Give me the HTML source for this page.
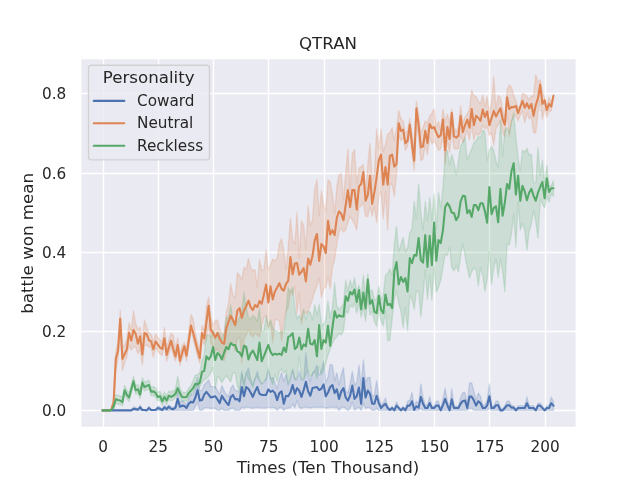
<!DOCTYPE html>
<html lang="en"><head><meta charset="utf-8"><title>QTRAN</title>
<style>
html,body{margin:0;padding:0;background:#fff;width:640px;height:480px;overflow:hidden}
svg{display:block}
</style></head><body>
<svg width="640" height="480" viewBox="0 0 460.8 345.6" version="1.1">
 <defs>
  <style type="text/css">*{stroke-linejoin: round; stroke-linecap: butt}</style>
 </defs>
 <g id="figure_1">
  <g id="patch_1">
   <path d="M 0 345.6 
L 460.8 345.6 
L 460.8 0 
L 0 0 
z
" style="fill: #ffffff"/>
  </g>
  <g id="axes_1">
   <g id="patch_2">
    <path d="M 57.6 307.44 L 414.72 307.44 L 414.72 41.76 L 57.6 41.76 z
" style="fill: #eaeaf2"/>
   </g>
   <g id="matplotlib.axis_1">
    <g id="xtick_1">
     <g id="line2d_1">
      <path d="M 74.5200 307.584 L 74.5200 41.472" clip-path="url(#p02d3b5d28d)" style="fill: none; stroke: #ffffff; stroke-linecap: round"/>
     </g>
     <g id="text_1" transform="translate(0.360 0.000)">
      <text style="font-size: 11px; font-family: 'DejaVu Sans', 'Liberation Sans', sans-serif; text-anchor: middle; fill: #262626" x="73.832727" y="325.442281" transform="rotate(-0 73.832727 325.442281)">0</text>
     </g>
    </g>
    <g id="xtick_2">
     <g id="line2d_2">
      <path d="M 114.1200 307.584 L 114.1200 41.472" clip-path="url(#p02d3b5d28d)" style="fill: none; stroke: #ffffff; stroke-linecap: round"/>
     </g>
     <g id="text_2" transform="translate(0.360 0.000)">
      <text style="font-size: 11px; font-family: 'DejaVu Sans', 'Liberation Sans', sans-serif; text-anchor: middle; fill: #262626" x="113.618824" y="325.442281" transform="rotate(-0 113.618824 325.442281)">25</text>
     </g>
    </g>
    <g id="xtick_3">
     <g id="line2d_3">
      <path d="M 153.7200 307.584 L 153.7200 41.472" clip-path="url(#p02d3b5d28d)" style="fill: none; stroke: #ffffff; stroke-linecap: round"/>
     </g>
     <g id="text_3" transform="translate(0.360 0.000)">
      <text style="font-size: 11px; font-family: 'DejaVu Sans', 'Liberation Sans', sans-serif; text-anchor: middle; fill: #262626" x="153.40492" y="325.442281" transform="rotate(-0 153.40492 325.442281)">50</text>
     </g>
    </g>
    <g id="xtick_4">
     <g id="line2d_4">
      <path d="M 193.3200 307.584 L 193.3200 41.472" clip-path="url(#p02d3b5d28d)" style="fill: none; stroke: #ffffff; stroke-linecap: round"/>
     </g>
     <g id="text_4" transform="translate(0.360 0.000)">
      <text style="font-size: 11px; font-family: 'DejaVu Sans', 'Liberation Sans', sans-serif; text-anchor: middle; fill: #262626" x="193.191016" y="325.442281" transform="rotate(-0 193.191016 325.442281)">75</text>
     </g>
    </g>
    <g id="xtick_5">
     <g id="line2d_5">
      <path d="M 233.6400 307.584 L 233.6400 41.472" clip-path="url(#p02d3b5d28d)" style="fill: none; stroke: #ffffff; stroke-linecap: round"/>
     </g>
     <g id="text_5" transform="translate(0.360 0.000)">
      <text style="font-size: 11px; font-family: 'DejaVu Sans', 'Liberation Sans', sans-serif; text-anchor: middle; fill: #262626" x="232.977112" y="325.442281" transform="rotate(-0 232.977112 325.442281)">100</text>
     </g>
    </g>
    <g id="xtick_6">
     <g id="line2d_6">
      <path d="M 273.2400 307.584 L 273.2400 41.472" clip-path="url(#p02d3b5d28d)" style="fill: none; stroke: #ffffff; stroke-linecap: round"/>
     </g>
     <g id="text_6" transform="translate(0.360 0.000)">
      <text style="font-size: 11px; font-family: 'DejaVu Sans', 'Liberation Sans', sans-serif; text-anchor: middle; fill: #262626" x="272.763209" y="325.442281" transform="rotate(-0 272.763209 325.442281)">125</text>
     </g>
    </g>
    <g id="xtick_7">
     <g id="line2d_7">
      <path d="M 312.8400 307.584 L 312.8400 41.472" clip-path="url(#p02d3b5d28d)" style="fill: none; stroke: #ffffff; stroke-linecap: round"/>
     </g>
     <g id="text_7" transform="translate(0.360 0.000)">
      <text style="font-size: 11px; font-family: 'DejaVu Sans', 'Liberation Sans', sans-serif; text-anchor: middle; fill: #262626" x="312.549305" y="325.442281" transform="rotate(-0 312.549305 325.442281)">150</text>
     </g>
    </g>
    <g id="xtick_8">
     <g id="line2d_8">
      <path d="M 352.4400 307.584 L 352.4400 41.472" clip-path="url(#p02d3b5d28d)" style="fill: none; stroke: #ffffff; stroke-linecap: round"/>
     </g>
     <g id="text_8" transform="translate(0.360 0.000)">
      <text style="font-size: 11px; font-family: 'DejaVu Sans', 'Liberation Sans', sans-serif; text-anchor: middle; fill: #262626" x="352.335401" y="325.442281" transform="rotate(-0 352.335401 325.442281)">175</text>
     </g>
    </g>
    <g id="xtick_9">
     <g id="line2d_9">
      <path d="M 392.7600 307.584 L 392.7600 41.472" clip-path="url(#p02d3b5d28d)" style="fill: none; stroke: #ffffff; stroke-linecap: round"/>
     </g>
     <g id="text_9" transform="translate(0.360 0.000)">
      <text style="font-size: 11px; font-family: 'DejaVu Sans', 'Liberation Sans', sans-serif; text-anchor: middle; fill: #262626" x="392.121497" y="325.442281" transform="rotate(-0 392.121497 325.442281)">200</text>
     </g>
    </g>
    <g id="text_10">
     <text style="font-size: 12px; font-family: 'DejaVu Sans', 'Liberation Sans', sans-serif; text-anchor: middle; fill: #262626" x="236.16" y="340.848062" transform="rotate(-0 236.16 340.848062)">Times (Ten Thousand)</text>
    </g>
   </g>
   <g id="matplotlib.axis_2">
    <g id="ytick_1">
     <g id="line2d_10">
      <path d="M 57.6 295.5600 L 414.72 295.5600" clip-path="url(#p02d3b5d28d)" style="fill: none; stroke: #ffffff; stroke-linecap: round"/>
     </g>
     <g id="text_11" transform="translate(-0.360 0.000)">
      <text style="font-size: 11px; font-family: 'DejaVu Sans', 'Liberation Sans', sans-serif; text-anchor: end; fill: #262626" x="48.1" y="299.667141" transform="rotate(-0 48.1 299.667141)">0.0</text>
     </g>
    </g>
    <g id="ytick_2">
     <g id="line2d_11">
      <path d="M 57.6 238.6800 L 414.72 238.6800" clip-path="url(#p02d3b5d28d)" style="fill: none; stroke: #ffffff; stroke-linecap: round"/>
     </g>
     <g id="text_12" transform="translate(-0.360 0.000)">
      <text style="font-size: 11px; font-family: 'DejaVu Sans', 'Liberation Sans', sans-serif; text-anchor: end; fill: #262626" x="48.1" y="242.576875" transform="rotate(-0 48.1 242.576875)">0.2</text>
     </g>
    </g>
    <g id="ytick_3">
     <g id="line2d_12">
      <path d="M 57.6 181.8000 L 414.72 181.8000" clip-path="url(#p02d3b5d28d)" style="fill: none; stroke: #ffffff; stroke-linecap: round"/>
     </g>
     <g id="text_13" transform="translate(-0.360 0.000)">
      <text style="font-size: 11px; font-family: 'DejaVu Sans', 'Liberation Sans', sans-serif; text-anchor: end; fill: #262626" x="48.1" y="185.48661" transform="rotate(-0 48.1 185.48661)">0.4</text>
     </g>
    </g>
    <g id="ytick_4">
     <g id="line2d_13">
      <path d="M 57.6 124.9200 L 414.72 124.9200" clip-path="url(#p02d3b5d28d)" style="fill: none; stroke: #ffffff; stroke-linecap: round"/>
     </g>
     <g id="text_14" transform="translate(-0.360 0.720)">
      <text style="font-size: 11px; font-family: 'DejaVu Sans', 'Liberation Sans', sans-serif; text-anchor: end; fill: #262626" x="48.1" y="128.396344" transform="rotate(-0 48.1 128.396344)">0.6</text>
     </g>
    </g>
    <g id="ytick_5">
     <g id="line2d_14">
      <path d="M 57.6 67.3200 L 414.72 67.3200" clip-path="url(#p02d3b5d28d)" style="fill: none; stroke: #ffffff; stroke-linecap: round"/>
     </g>
     <g id="text_15" transform="translate(-0.360 0.000)">
      <text style="font-size: 11px; font-family: 'DejaVu Sans', 'Liberation Sans', sans-serif; text-anchor: end; fill: #262626" x="48.1" y="71.306079" transform="rotate(-0 48.1 71.306079)">0.8</text>
     </g>
    </g>
    <g id="text_16" transform="translate(0.000 0.720)">
     <text style="font-size: 12px; font-family: 'DejaVu Sans', 'Liberation Sans', sans-serif; text-anchor: middle; fill: #262626" x="24.110938" y="174.528" transform="rotate(-90 24.110938 174.528)">battle won mean</text>
    </g>
   </g>
   <g id="FillBetweenPolyCollection_1">
    <defs>
     <path id="m5f63ee102f" d="M 73.832727 -50.112 
L 73.832727 -50.112 
L 75.424171 -50.112 
L 77.015615 -50.112 
L 78.607059 -50.112 
L 80.198503 -50.112 
L 81.789947 -50.112 
L 83.38139 -50.112 
L 84.972834 -50.112 
L 86.564278 -50.112 
L 88.155722 -50.112 
L 89.747166 -50.112 
L 91.33861 -50.112 
L 92.930053 -50.112 
L 94.521497 -50.112 
L 96.112941 -50.112 
L 97.704385 -50.112 
L 99.295829 -50.112 
L 100.887273 -50.112 
L 102.478717 -50.112 
L 104.07016 -50.112 
L 105.661604 -50.112 
L 107.253048 -50.112 
L 108.844492 -50.112 
L 110.435936 -50.112 
L 112.02738 -50.112 
L 113.618824 -50.112 
L 115.210267 -50.112 
L 116.801711 -50.112 
L 118.393155 -50.112 
L 119.984599 -50.112 
L 121.576043 -50.112 
L 123.167487 -50.112 
L 124.75893 -50.112 
L 126.350374 -50.112 
L 127.941818 -50.112 
L 129.533262 -50.112 
L 131.124706 -50.112 
L 132.71615 -50.112 
L 134.307594 -50.112 
L 135.899037 -50.112 
L 137.490481 -50.112 
L 139.081925 -50.112 
L 140.673369 -52.966513 
L 142.264813 -55.821027 
L 143.856257 -50.112 
L 145.447701 -50.112 
L 147.039144 -51.824708 
L 148.630588 -52.111587 
L 150.222032 -51.824708 
L 151.813476 -51.503575 
L 153.40492 -51.567802 
L 154.996364 -51.640592 
L 156.587807 -50.112 
L 158.179251 -50.112 
L 159.770695 -51.696255 
L 161.362139 -50.112 
L 162.953583 -50.112 
L 164.545027 -50.112 
L 166.136471 -51.567802 
L 167.727914 -51.78189 
L 169.319358 -50.112 
L 170.910802 -50.112 
L 172.502246 -50.112 
L 174.09369 -52.395611 
L 175.685134 -51.640592 
L 177.276578 -52.395611 
L 178.868021 -52.395611 
L 180.459465 -52.038796 
L 182.050909 -51.567802 
L 183.642353 -52.16725 
L 185.233797 -52.395611 
L 186.825241 -51.910343 
L 188.416684 -51.78189 
L 190.008128 -51.78189 
L 191.599572 -51.78189 
L 193.191016 -52.381338 
L 194.78246 -52.111587 
L 196.373904 -52.252885 
L 197.965348 -51.983133 
L 199.556791 -50.112 
L 201.148235 -51.983133 
L 202.739679 -52.16725 
L 204.331123 -50.112 
L 205.922567 -51.696255 
L 207.514011 -51.640592 
L 209.105455 -52.038796 
L 210.696898 -54.679221 
L 212.288342 -51.910343 
L 213.879786 -57.248283 
L 215.47123 -52.252885 
L 217.062674 -51.567802 
L 218.654118 -52.31283 
L 220.245561 -52.395611 
L 221.837005 -52.16725 
L 223.428449 -51.696255 
L 225.019893 -52.395611 
L 226.611337 -52.395611 
L 228.202781 -52.395611 
L 229.794225 -52.31283 
L 231.385668 -52.395611 
L 232.977112 -52.395611 
L 234.568556 -51.640592 
L 236.16 -52.038796 
L 237.751444 -52.395611 
L 239.342888 -52.395611 
L 240.934332 -51.983133 
L 242.525775 -52.381338 
L 244.117219 -50.112 
L 245.708663 -52.16725 
L 247.300107 -52.395611 
L 248.891551 -51.503575 
L 250.482995 -50.112 
L 252.074439 -51.696255 
L 253.665882 -56.106478 
L 255.257326 -50.112 
L 256.84877 -51.640592 
L 258.440214 -52.395611 
L 260.031658 -50.112 
L 261.623102 -54.907582 
L 263.214545 -51.503575 
L 264.805989 -52.252885 
L 266.397433 -51.910343 
L 267.988877 -50.112 
L 269.580321 -50.112 
L 271.171765 -51.696255 
L 272.763209 -50.112 
L 274.354652 -50.112 
L 275.946096 -50.112 
L 277.53754 -50.112 
L 279.128984 -50.112 
L 280.720428 -50.112 
L 282.311872 -50.112 
L 283.903316 -50.112 
L 285.494759 -50.112 
L 287.086203 -50.112 
L 288.677647 -50.112 
L 290.269091 -50.112 
L 291.860535 -50.112 
L 293.451979 -50.112 
L 295.043422 -50.112 
L 296.634866 -50.112 
L 298.22631 -50.112 
L 299.817754 -50.112 
L 301.409198 -50.112 
L 303.000642 -51.567802 
L 304.592086 -50.112 
L 306.183529 -50.112 
L 307.774973 -50.112 
L 309.366417 -50.112 
L 310.957861 -50.112 
L 312.549305 -50.112 
L 314.140749 -50.112 
L 315.732193 -50.112 
L 317.323636 -50.112 
L 318.91508 -50.112 
L 320.506524 -50.112 
L 322.097968 -50.112 
L 323.689412 -50.112 
L 325.280856 -50.112 
L 326.872299 -50.112 
L 328.463743 -50.112 
L 330.055187 -50.112 
L 331.646631 -50.112 
L 333.238075 -50.112 
L 334.829519 -50.112 
L 336.420963 -50.112 
L 338.012406 -51.597774 
L 339.60385 -51.597774 
L 341.195294 -50.112 
L 342.786738 -50.112 
L 344.378182 -50.112 
L 345.969626 -50.112 
L 347.56107 -50.112 
L 349.152513 -50.112 
L 350.743957 -50.112 
L 352.335401 -51.640592 
L 353.926845 -50.112 
L 355.518289 -50.112 
L 357.109733 -50.112 
L 358.701176 -50.112 
L 360.29262 -50.112 
L 361.884064 -50.112 
L 363.475508 -50.112 
L 365.066952 -50.112 
L 366.658396 -50.112 
L 368.24984 -50.112 
L 369.841283 -50.112 
L 371.432727 -50.112 
L 373.024171 -50.112 
L 374.615615 -50.112 
L 376.207059 -50.112 
L 377.798503 -50.112 
L 379.389947 -50.112 
L 380.98139 -50.112 
L 382.572834 -50.112 
L 384.164278 -50.112 
L 385.755722 -50.112 
L 387.347166 -50.112 
L 388.93861 -50.112 
L 390.530053 -50.112 
L 392.121497 -50.112 
L 393.712941 -50.112 
L 395.304385 -50.112 
L 396.895829 -50.112 
L 398.487273 -50.112 
L 398.487273 -56.391929 
L 398.487273 -56.391929 
L 396.895829 -59.817345 
L 395.304385 -53.537416 
L 393.712941 -53.537416 
L 392.121497 -50.682903 
L 390.530053 -53.537416 
L 388.93861 -55.250124 
L 387.347166 -55.250124 
L 385.755722 -50.682903 
L 384.164278 -53.537416 
L 382.572834 -53.537416 
L 380.98139 -53.537416 
L 379.389947 -59.817345 
L 377.798503 -53.537416 
L 376.207059 -53.537416 
L 374.615615 -53.537416 
L 373.024171 -53.537416 
L 371.432727 -50.968354 
L 369.841283 -53.537416 
L 368.24984 -53.537416 
L 366.658396 -56.677381 
L 365.066952 -56.677381 
L 363.475508 -53.537416 
L 361.884064 -50.968354 
L 360.29262 -52.110159 
L 358.701176 -56.677381 
L 357.109733 -56.677381 
L 355.518289 -53.080694 
L 353.926845 -53.080694 
L 352.335401 -69.237239 
L 350.743957 -57.533735 
L 349.152513 -53.965593 
L 347.56107 -53.965593 
L 345.969626 -60.302612 
L 344.378182 -62.586223 
L 342.786738 -57.533735 
L 341.195294 -63.813664 
L 339.60385 -69.808142 
L 338.012406 -69.808142 
L 336.420963 -54.907582 
L 334.829519 -62.95731 
L 333.238075 -62.95731 
L 331.646631 -59.389168 
L 330.055187 -53.080694 
L 328.463743 -53.080694 
L 326.872299 -53.080694 
L 325.280856 -65.697642 
L 323.689412 -53.080694 
L 322.097968 -56.677381 
L 320.506524 -66.18291 
L 318.91508 -58.390088 
L 317.323636 -51.253805 
L 315.732193 -56.677381 
L 314.140749 -56.677381 
L 312.549305 -53.080694 
L 310.957861 -53.080694 
L 309.366417 -59.817345 
L 307.774973 -53.965593 
L 306.183529 -53.965593 
L 304.592086 -59.389168 
L 303.000642 -69.237239 
L 301.409198 -55.250124 
L 299.817754 -56.677381 
L 298.22631 -53.080694 
L 296.634866 -62.95731 
L 295.043422 -57.533735 
L 293.451979 -56.677381 
L 291.860535 -50.968354 
L 290.269091 -52.966513 
L 288.677647 -50.968354 
L 287.086203 -53.080694 
L 285.494759 -56.249204 
L 283.903316 -50.968354 
L 282.311872 -53.080694 
L 280.720428 -51.539257 
L 279.128984 -53.080694 
L 277.53754 -58.960991 
L 275.946096 -55.821027 
L 274.354652 -53.965593 
L 272.763209 -60.302612 
L 271.171765 -71.52085 
L 269.580321 -61.158966 
L 267.988877 -60.302612 
L 266.397433 -73.80446 
L 264.805989 -73.80446 
L 263.214545 -70.093593 
L 261.623102 -86.364319 
L 260.031658 -68.380885 
L 258.440214 -82.653451 
L 256.84877 -70.093593 
L 255.257326 -68.380885 
L 253.665882 -78.286046 
L 252.074439 -69.237239 
L 250.482995 -62.95731 
L 248.891551 -63.813664 
L 247.300107 -80.940743 
L 245.708663 -75.802619 
L 244.117219 -68.380885 
L 242.525775 -77.229876 
L 240.934332 -71.52085 
L 239.342888 -82.653451 
L 237.751444 -83.224354 
L 236.16 -74.089912 
L 234.568556 -70.093593 
L 232.977112 -85.507965 
L 231.385668 -78.657133 
L 229.794225 -75.517168 
L 228.202781 -82.653451 
L 226.611337 -78.657133 
L 225.019893 -77.229876 
L 223.428449 -70.949947 
L 221.837005 -76.373522 
L 220.245561 -91.502442 
L 218.654118 -72.091752 
L 217.062674 -72.091752 
L 215.47123 -78.371681 
L 213.879786 -72.377204 
L 212.288342 -72.948106 
L 210.696898 -79.228035 
L 209.105455 -72.948106 
L 207.514011 -68.380885 
L 205.922567 -76.373522 
L 204.331123 -70.949947 
L 202.739679 -77.372602 
L 201.148235 -72.948106 
L 199.556791 -65.811823 
L 197.965348 -70.093593 
L 196.373904 -73.80446 
L 194.78246 -72.948106 
L 193.191016 -79.228035 
L 191.599572 -72.948106 
L 190.008128 -70.093593 
L 188.416684 -69.237239 
L 186.825241 -71.52085 
L 185.233797 -78.371681 
L 183.642353 -72.948106 
L 182.050909 -68.666336 
L 180.459465 -72.948106 
L 178.868021 -80.655292 
L 177.276578 -77.229876 
L 175.685134 -70.093593 
L 174.09369 -78.371681 
L 172.502246 -62.95731 
L 170.910802 -64.384566 
L 169.319358 -64.384566 
L 167.727914 -68.380885 
L 166.136471 -65.811823 
L 164.545027 -60.102796 
L 162.953583 -61.530053 
L 161.362139 -64.384566 
L 159.770695 -67.952708 
L 158.179251 -61.530053 
L 156.587807 -64.384566 
L 154.996364 -67.23908 
L 153.40492 -67.23908 
L 151.813476 -67.23908 
L 150.222032 -71.977572 
L 148.630588 -70.093593 
L 147.039144 -68.666336 
L 145.447701 -64.384566 
L 143.856257 -64.384566 
L 142.264813 -73.80446 
L 140.673369 -65.811823 
L 139.081925 -61.530053 
L 137.490481 -61.530053 
L 135.899037 -58.67554 
L 134.307594 -54.39377 
L 132.71615 -55.821027 
L 131.124706 -57.248283 
L 129.533262 -55.821027 
L 127.941818 -62.95731 
L 126.350374 -53.537416 
L 124.75893 -52.395611 
L 123.167487 -52.681062 
L 121.576043 -54.108319 
L 119.984599 -52.395611 
L 118.393155 -53.822867 
L 116.801711 -50.397451 
L 115.210267 -52.681062 
L 113.618824 -53.251965 
L 112.02738 -50.397451 
L 110.435936 -50.397451 
L 108.844492 -50.397451 
L 107.253048 -53.251965 
L 105.661604 -50.112 
L 104.07016 -50.397451 
L 102.478717 -50.397451 
L 100.887273 -53.822867 
L 99.295829 -50.682903 
L 97.704385 -52.395611 
L 96.112941 -52.681062 
L 94.521497 -50.112 
L 92.930053 -50.112 
L 91.33861 -50.112 
L 89.747166 -50.112 
L 88.155722 -50.112 
L 86.564278 -50.112 
L 84.972834 -50.112 
L 83.38139 -50.112 
L 81.789947 -50.112 
L 80.198503 -50.112 
L 78.607059 -50.112 
L 77.015615 -50.112 
L 75.424171 -50.112 
L 73.832727 -50.112 
z
" style="stroke: #4c72b0; stroke-opacity: 0.2"/>
    </defs>
    <g clip-path="url(#p02d3b5d28d)">
     <use href="#m5f63ee102f" x="0" y="345.6" style="fill: #4c72b0; fill-opacity: 0.2; stroke: #4c72b0; stroke-opacity: 0.2"/>
    </g>
   </g>
   <g id="FillBetweenPolyCollection_2">
    <defs>
     <path id="m0752ce0d55" d="M 73.832727 -50.112 
L 73.832727 -50.112 
L 75.424171 -50.112 
L 77.015615 -50.112 
L 78.607059 -50.112 
L 80.198503 -50.112 
L 81.789947 -52.966513 
L 83.38139 -78.657133 
L 84.972834 -87.220673 
L 86.564278 -108.914973 
L 88.155722 -78.657133 
L 89.747166 -84.366159 
L 91.33861 -88.647929 
L 92.930053 -97.211469 
L 94.521497 -93.500602 
L 96.112941 -95.784212 
L 97.704385 -95.784212 
L 99.295829 -90.93154 
L 100.887273 -94.356956 
L 102.478717 -82.938903 
L 104.07016 -96.355115 
L 105.661604 -97.211469 
L 107.253048 -95.784212 
L 108.844492 -95.21331 
L 110.435936 -88.505204 
L 112.02738 -95.21331 
L 113.618824 -92.929699 
L 115.210267 -90.788814 
L 116.801711 -89.789735 
L 118.393155 -97.49692 
L 119.984599 -85.507965 
L 121.576043 -90.93154 
L 123.167487 -95.784212 
L 124.75893 -89.789735 
L 126.350374 -85.507965 
L 127.941818 -92.644248 
L 129.533262 -82.653451 
L 131.124706 -86.935221 
L 132.71615 -91.787894 
L 134.307594 -85.507965 
L 135.899037 -96.069664 
L 137.490481 -106.631363 
L 139.081925 -101.493239 
L 140.673369 -95.21331 
L 142.264813 -88.933381 
L 143.856257 -84.080708 
L 145.447701 -101.207788 
L 147.039144 -97.211469 
L 148.630588 -101.493239 
L 150.222032 -111.484035 
L 151.813476 -98.638726 
L 153.40492 -95.784212 
L 154.996364 -92.929699 
L 156.587807 -94.356956 
L 158.179251 -90.075186 
L 159.770695 -87.220673 
L 161.362139 -85.793416 
L 162.953583 -92.929699 
L 164.545027 -95.784212 
L 166.136471 -98.638726 
L 167.727914 -97.211469 
L 169.319358 -92.929699 
L 170.910802 -101.493239 
L 172.502246 -102.920496 
L 174.09369 -84.366159 
L 175.685134 -101.493239 
L 177.276578 -104.347752 
L 178.868021 -108.629522 
L 180.459465 -104.347752 
L 182.050909 -102.920496 
L 183.642353 -105.775009 
L 185.233797 -104.347752 
L 186.825241 -102.920496 
L 188.416684 -110.056779 
L 190.008128 -116.907611 
L 191.599572 -118.620319 
L 193.191016 -108.914973 
L 194.78246 -114.338549 
L 196.373904 -98.924177 
L 197.965348 -115.194903 
L 199.556791 -115.765805 
L 201.148235 -114.338549 
L 202.739679 -100.065982 
L 204.331123 -113.482195 
L 205.922567 -121.474832 
L 207.514011 -124.329345 
L 209.105455 -135.747398 
L 210.696898 -132.892885 
L 212.288342 -139.458265 
L 213.879786 -119.647943 
L 215.47123 -134.891044 
L 217.062674 -112.340389 
L 218.654118 -122.331186 
L 220.245561 -119.647943 
L 221.837005 -121.474832 
L 223.428449 -125.756602 
L 225.019893 -130.323823 
L 226.611337 -135.747398 
L 228.202781 -139.458265 
L 229.794225 -145.738195 
L 231.385668 -131.322903 
L 232.977112 -137.631377 
L 234.568556 -138.601912 
L 236.16 -146.594549 
L 237.751444 -137.631377 
L 239.342888 -152.874478 
L 240.934332 -158.583504 
L 242.525775 -170.001558 
L 244.117219 -178.565097 
L 245.708663 -181.419611 
L 247.300107 -178.565097 
L 248.891551 -179.992354 
L 250.482995 -185.301749 
L 252.074439 -189.98315 
L 253.665882 -187.128637 
L 255.257326 -184.274124 
L 256.84877 -179.992354 
L 258.440214 -195.977628 
L 260.031658 -197.119434 
L 261.623102 -199.688496 
L 263.214545 -189.98315 
L 264.805989 -189.697699 
L 266.397433 -197.005253 
L 267.988877 -189.98315 
L 269.580321 -197.005253 
L 271.171765 -185.301749 
L 272.763209 -204.255717 
L 274.354652 -207.681133 
L 275.946096 -187.984991 
L 277.53754 -207.681133 
L 279.128984 -179.906719 
L 280.720428 -214.075242 
L 282.311872 -212.248354 
L 283.903316 -204.255717 
L 285.494759 -220.383717 
L 287.086203 -248.215221 
L 288.677647 -244.218903 
L 290.269091 -246.787965 
L 291.860535 -237.368071 
L 293.451979 -240.136949 
L 295.043422 -249.927929 
L 296.634866 -233.857019 
L 298.22631 -223.095504 
L 299.817754 -255.351504 
L 301.409198 -247.073416 
L 303.000642 -229.946336 
L 304.592086 -231.373593 
L 306.183529 -241.078938 
L 307.774973 -234.228106 
L 309.366417 -247.073416 
L 310.957861 -241.935292 
L 312.549305 -244.218903 
L 314.140749 -241.364389 
L 315.732193 -237.368071 
L 317.323636 -238.509876 
L 318.91508 -249.927929 
L 320.506524 -227.091823 
L 322.097968 -244.218903 
L 323.689412 -235.655363 
L 325.280856 -250.955554 
L 326.872299 -238.509876 
L 328.463743 -238.36715 
L 330.055187 -238.509876 
L 331.646631 -249.071575 
L 333.238075 -242.791646 
L 334.829519 -247.073416 
L 336.420963 -251.868998 
L 338.012406 -244.789805 
L 339.60385 -255.636956 
L 341.195294 -244.789805 
L 342.786738 -249.927929 
L 344.378182 -248.215221 
L 345.969626 -249.927929 
L 347.56107 -255.636956 
L 349.152513 -252.782442 
L 350.743957 -254.49515 
L 352.335401 -248.215221 
L 353.926845 -249.927929 
L 355.518289 -241.078938 
L 357.109733 -252.782442 
L 358.701176 -255.636956 
L 360.29262 -258.491469 
L 361.884064 -249.927929 
L 363.475508 -247.073416 
L 365.066952 -264.200496 
L 366.658396 -247.358867 
L 368.24984 -258.491469 
L 369.841283 -261.345982 
L 371.432727 -262.773239 
L 373.024171 -258.491469 
L 374.615615 -262.773239 
L 376.207059 -265.627752 
L 377.798503 -257.235483 
L 379.389947 -264.200496 
L 380.98139 -259.918726 
L 382.572834 -261.345982 
L 384.164278 -249.927929 
L 385.755722 -249.927929 
L 387.347166 -264.200496 
L 388.93861 -272.764035 
L 390.530053 -259.490549 
L 392.121497 -267.055009 
L 393.712941 -261.345982 
L 395.304385 -265.627752 
L 396.895829 -265.627752 
L 398.487273 -275.618549 
L 398.487273 -277.331257 
L 398.487273 -277.331257 
L 396.895829 -271.62223 
L 395.304385 -275.618549 
L 393.712941 -269.053168 
L 392.121497 -275.618549 
L 390.530053 -279.900319 
L 388.93861 -288.178407 
L 387.347166 -286.465699 
L 385.755722 -291.889274 
L 384.164278 -276.303632 
L 382.572834 -276.760354 
L 380.98139 -273.620389 
L 379.389947 -276.303632 
L 377.798503 -277.616708 
L 376.207059 -278.473062 
L 374.615615 -269.909522 
L 373.024171 -268.054088 
L 371.432727 -273.334938 
L 369.841283 -277.045805 
L 368.24984 -282.754832 
L 366.658396 -284.667356 
L 365.066952 -280.642492 
L 363.475508 -259.062372 
L 361.884064 -267.055009 
L 360.29262 -275.247462 
L 358.701176 -277.045805 
L 357.109733 -267.055009 
L 355.518289 -290.462018 
L 353.926845 -271.62223 
L 352.335401 -264.485947 
L 350.743957 -276.189451 
L 349.152513 -269.053168 
L 347.56107 -277.045805 
L 345.969626 -270.765876 
L 344.378182 -272.478584 
L 342.786738 -276.189451 
L 341.195294 -276.589083 
L 339.60385 -280.642492 
L 338.012406 -267.055009 
L 336.420963 -263.629593 
L 334.829519 -261.345982 
L 333.238075 -257.235483 
L 331.646631 -269.338619 
L 330.055187 -254.49515 
L 328.463743 -250.955554 
L 326.872299 -253.638796 
L 325.280856 -267.055009 
L 323.689412 -257.235483 
L 322.097968 -263.629593 
L 320.506524 -258.206018 
L 318.91508 -267.055009 
L 317.323636 -251.926088 
L 315.732193 -258.206018 
L 314.140749 -253.638796 
L 312.549305 -267.055009 
L 310.957861 -264.200496 
L 309.366417 -261.745614 
L 307.774973 -257.235483 
L 306.183529 -258.491469 
L 304.592086 -253.638796 
L 303.000642 -249.927929 
L 301.409198 -262.773239 
L 299.817754 -272.764035 
L 298.22631 -238.509876 
L 296.634866 -249.927929 
L 295.043422 -260.489628 
L 293.451979 -251.355186 
L 291.860535 -249.927929 
L 290.269091 -258.491469 
L 288.677647 -259.918726 
L 287.086203 -266.198655 
L 285.494759 -252.782442 
L 283.903316 -244.64708 
L 282.311872 -253.638796 
L 280.720428 -249.927929 
L 279.128984 -249.071575 
L 277.53754 -241.364389 
L 275.946096 -236.511717 
L 274.354652 -252.782442 
L 272.763209 -238.509876 
L 271.171765 -252.782442 
L 269.580321 -221.382796 
L 267.988877 -214.960142 
L 266.397433 -242.506195 
L 264.805989 -227.091823 
L 263.214545 -205.112071 
L 261.623102 -227.091823 
L 260.031658 -225.664566 
L 258.440214 -224.522761 
L 256.84877 -213.104708 
L 255.257326 -237.938973 
L 253.665882 -234.799009 
L 252.074439 -208.680212 
L 250.482995 -238.36715 
L 248.891551 -221.382796 
L 247.300107 -201.401204 
L 245.708663 -220.811894 
L 244.117219 -219.470273 
L 242.525775 -211.392 
L 240.934332 -191.581678 
L 239.342888 -205.968425 
L 237.751444 -214.960142 
L 236.16 -215.873586 
L 234.568556 -193.408566 
L 232.977112 -197.890152 
L 231.385668 -208.252035 
L 229.794225 -190.696779 
L 228.202781 -216.244673 
L 226.611337 -209.593657 
L 225.019893 -187.128637 
L 223.428449 -182.732687 
L 221.837005 -197.404885 
L 220.245561 -166.005239 
L 218.654118 -183.132319 
L 217.062674 -186.557735 
L 215.47123 -160.010761 
L 213.879786 -192.552212 
L 212.288342 -170.001558 
L 210.696898 -172.713345 
L 209.105455 -188.555894 
L 207.514011 -167.318315 
L 205.922567 -151.16177 
L 204.331123 -165.434336 
L 202.739679 -173.598244 
L 201.148235 -170.001558 
L 199.556791 -160.010761 
L 197.965348 -157.584425 
L 196.373904 -159.154407 
L 194.78246 -154.587186 
L 193.191016 -151.16177 
L 191.599572 -165.434336 
L 190.008128 -151.16177 
L 188.416684 -151.16177 
L 186.825241 -158.754775 
L 185.233797 -138.601912 
L 183.642353 -151.447221 
L 182.050909 -150.590867 
L 180.459465 -152.874478 
L 178.868021 -159.439858 
L 177.276578 -151.447221 
L 175.685134 -153.359745 
L 174.09369 -144.310938 
L 172.502246 -147.165451 
L 170.910802 -149.334881 
L 169.319358 -131.465628 
L 167.727914 -132.892885 
L 166.136471 -141.170973 
L 164.545027 -127.183858 
L 162.953583 -120.532842 
L 161.362139 -104.347752 
L 159.770695 -106.06046 
L 158.179251 -108.629522 
L 156.587807 -115.194903 
L 154.996364 -114.709635 
L 153.40492 -111.484035 
L 151.813476 -117.193062 
L 150.222032 -131.75108 
L 148.630588 -124.900248 
L 147.039144 -107.202265 
L 145.447701 -111.198584 
L 143.856257 -93.21515 
L 142.264813 -98.924177 
L 140.673369 -105.204106 
L 139.081925 -116.051257 
L 137.490481 -119.191221 
L 135.899037 -106.06046 
L 134.307594 -94.927858 
L 132.71615 -98.924177 
L 131.124706 -96.926018 
L 129.533262 -91.216991 
L 127.941818 -102.349593 
L 126.350374 -94.356956 
L 124.75893 -104.062301 
L 123.167487 -105.775009 
L 121.576043 -100.922336 
L 119.984599 -95.498761 
L 118.393155 -109.771327 
L 116.801711 -99.780531 
L 115.210267 -100.779611 
L 113.618824 -102.920496 
L 112.02738 -105.204106 
L 110.435936 -99.49508 
L 108.844492 -105.204106 
L 107.253048 -105.775009 
L 105.661604 -110.199504 
L 104.07016 -115.194903 
L 102.478717 -101.493239 
L 100.887273 -110.056779 
L 99.295829 -107.972984 
L 97.704385 -112.911292 
L 96.112941 -121.903009 
L 94.521497 -107.202265 
L 92.930053 -113.339469 
L 91.33861 -101.493239 
L 89.747166 -97.211469 
L 88.155722 -95.784212 
L 86.564278 -122.331186 
L 84.972834 -98.638726 
L 83.38139 -92.929699 
L 81.789947 -58.67554 
L 80.198503 -51.253805 
L 78.607059 -50.112 
L 77.015615 -50.112 
L 75.424171 -50.112 
L 73.832727 -50.112 
z
" style="stroke: #dd8452; stroke-opacity: 0.2"/>
    </defs>
    <g clip-path="url(#p02d3b5d28d)">
     <use href="#m0752ce0d55" x="0" y="345.6" style="fill: #dd8452; fill-opacity: 0.2; stroke: #dd8452; stroke-opacity: 0.2"/>
    </g>
   </g>
   <g id="FillBetweenPolyCollection_3">
    <defs>
     <path id="m4de6ec5535" d="M 73.832727 -50.112 
L 73.832727 -50.112 
L 75.424171 -50.112 
L 77.015615 -50.112 
L 78.607059 -50.112 
L 80.198503 -50.397451 
L 81.789947 -50.112 
L 83.38139 -55.250124 
L 84.972834 -54.679221 
L 86.564278 -54.39377 
L 88.155722 -53.251965 
L 89.747166 -61.815504 
L 91.33861 -58.390088 
L 92.930053 -56.534655 
L 94.521497 -62.386407 
L 96.112941 -68.238159 
L 97.704385 -61.815504 
L 99.295829 -62.386407 
L 100.887273 -58.67554 
L 102.478717 -67.23908 
L 104.07016 -64.099115 
L 105.661604 -64.955469 
L 107.253048 -65.526372 
L 108.844492 -60.673699 
L 110.435936 -60.95915 
L 112.02738 -59.817345 
L 113.618824 -56.962832 
L 115.210267 -57.533735 
L 116.801711 -53.822867 
L 118.393155 -56.962832 
L 119.984599 -54.39377 
L 121.576043 -57.819186 
L 123.167487 -56.962832 
L 124.75893 -57.819186 
L 126.350374 -59.246442 
L 127.941818 -63.242761 
L 129.533262 -59.73171 
L 131.124706 -56.962832 
L 132.71615 -56.677381 
L 134.307594 -56.962832 
L 135.899037 -59.73171 
L 137.490481 -61.530053 
L 139.081925 -63.328396 
L 140.673369 -66.382726 
L 142.264813 -65.983094 
L 143.856257 -67.23908 
L 145.447701 -70.093593 
L 147.039144 -71.977572 
L 148.630588 -72.948106 
L 150.222032 -74.660814 
L 151.813476 -77.229876 
L 153.40492 -80.940743 
L 154.996364 -65.697642 
L 156.587807 -74.660814 
L 158.179251 -72.948106 
L 159.770695 -70.093593 
L 161.362139 -72.948106 
L 162.953583 -75.146081 
L 164.545027 -72.948106 
L 166.136471 -70.550315 
L 167.727914 -77.229876 
L 169.319358 -77.229876 
L 170.910802 -67.524531 
L 172.502246 -63.813664 
L 174.09369 -75.802619 
L 175.685134 -64.670018 
L 177.276578 -77.372602 
L 178.868021 -72.948106 
L 180.459465 -70.093593 
L 182.050909 -66.582542 
L 183.642353 -72.948106 
L 185.233797 -74.375363 
L 186.825241 -72.006117 
L 188.416684 -68.951788 
L 190.008128 -71.406669 
L 191.599572 -72.006117 
L 193.191016 -80.940743 
L 194.78246 -72.662655 
L 196.373904 -68.666336 
L 197.965348 -76.230796 
L 199.556791 -70.807221 
L 201.148235 -78.000595 
L 202.739679 -79.884573 
L 204.331123 -77.058605 
L 205.922567 -78.600042 
L 207.514011 -69.065968 
L 209.105455 -74.375363 
L 210.696898 -79.798938 
L 212.288342 -72.006117 
L 213.879786 -73.80446 
L 215.47123 -88.790655 
L 217.062674 -72.006117 
L 218.654118 -72.948106 
L 220.245561 -75.802619 
L 221.837005 -78.657133 
L 223.428449 -74.375363 
L 225.019893 -75.802619 
L 226.611337 -78.657133 
L 228.202781 -72.948106 
L 229.794225 -81.511646 
L 231.385668 -75.802619 
L 232.977112 -78.657133 
L 234.568556 -84.366159 
L 236.16 -90.075186 
L 237.751444 -94.356956 
L 239.342888 -98.638726 
L 240.934332 -101.493239 
L 242.525775 -102.920496 
L 244.117219 -105.775009 
L 245.708663 -104.347752 
L 247.300107 -107.202265 
L 248.891551 -121.474832 
L 250.482995 -120.047575 
L 252.074439 -125.756602 
L 253.665882 -124.329345 
L 255.257326 -127.183858 
L 256.84877 -120.047575 
L 258.440214 -127.183858 
L 260.031658 -117.193062 
L 261.623102 -124.329345 
L 263.214545 -114.252913 
L 264.805989 -130.038372 
L 266.397433 -118.620319 
L 267.988877 -121.474832 
L 269.580321 -114.338549 
L 271.171765 -110.627681 
L 272.763209 -122.902088 
L 274.354652 -114.338549 
L 275.946096 -111.112949 
L 277.53754 -121.474832 
L 279.128984 -100.351434 
L 280.720428 -100.779611 
L 282.311872 -115.765805 
L 283.903316 -130.038372 
L 285.494759 -135.747398 
L 287.086203 -127.183858 
L 288.677647 -121.474832 
L 290.269091 -109.771327 
L 291.860535 -124.329345 
L 293.451979 -107.487717 
L 295.043422 -132.892885 
L 296.634866 -130.038372 
L 298.22631 -122.787908 
L 299.817754 -135.747398 
L 301.409198 -135.747398 
L 303.000642 -117.392878 
L 304.592086 -132.892885 
L 306.183529 -151.16177 
L 307.774973 -130.038372 
L 309.366417 -147.450903 
L 310.957861 -129.467469 
L 312.549305 -152.874478 
L 314.140749 -135.376312 
L 315.732193 -138.601912 
L 317.323636 -143.939851 
L 318.91508 -152.874478 
L 320.506524 -162.865274 
L 322.097968 -161.438018 
L 323.689412 -167.717947 
L 325.280856 -152.874478 
L 326.872299 -150.590867 
L 328.463743 -154.301735 
L 330.055187 -150.019965 
L 331.646631 -161.438018 
L 333.238075 -170.001558 
L 334.829519 -161.438018 
L 336.420963 -152.874478 
L 338.012406 -145.367108 
L 339.60385 -150.019965 
L 341.195294 -152.874478 
L 342.786738 -151.447221 
L 344.378182 -139.886442 
L 345.969626 -152.874478 
L 347.56107 -147.165451 
L 349.152513 -135.747398 
L 350.743957 -144.310938 
L 352.335401 -164.292531 
L 353.926845 -140.771342 
L 355.518289 -152.874478 
L 357.109733 -159.154407 
L 358.701176 -145.738195 
L 360.29262 -159.154407 
L 361.884064 -150.019965 
L 363.475508 -135.747398 
L 365.066952 -170.001558 
L 366.658396 -169.145204 
L 368.24984 -177.137841 
L 369.841283 -191.581678 
L 371.432727 -167.717947 
L 373.024171 -200.54485 
L 374.615615 -179.906719 
L 376.207059 -184.845027 
L 377.798503 -179.906719 
L 379.389947 -165.434336 
L 380.98139 -179.021819 
L 382.572834 -184.274124 
L 384.164278 -194.26492 
L 385.755722 -186.186648 
L 387.347166 -174.140602 
L 388.93861 -202.371738 
L 390.530053 -198.832142 
L 392.121497 -195.977628 
L 393.712941 -204.255717 
L 395.304385 -200.116673 
L 396.895829 -205.968425 
L 398.487273 -204.255717 
L 398.487273 -215.388319 
L 398.487273 -215.388319 
L 396.895829 -211.962903 
L 395.304385 -211.392 
L 393.712941 -226.663646 
L 392.121497 -214.246513 
L 390.530053 -230.231788 
L 388.93861 -219.470273 
L 387.347166 -239.25205 
L 385.755722 -214.246513 
L 384.164278 -214.075242 
L 382.572834 -234.799009 
L 380.98139 -233.857019 
L 379.389947 -238.880963 
L 377.798503 -236.08354 
L 376.207059 -237.368071 
L 374.615615 -222.638782 
L 373.024171 -232.058676 
L 371.432727 -246.502513 
L 369.841283 -264.428857 
L 368.24984 -258.148927 
L 366.658396 -249.927929 
L 365.066952 -253.638796 
L 363.475508 -251.868998 
L 361.884064 -232.943575 
L 360.29262 -259.062372 
L 358.701176 -224.808212 
L 357.109733 -229.946336 
L 355.518289 -237.368071 
L 353.926845 -240.136949 
L 352.335401 -237.368071 
L 350.743957 -230.231788 
L 349.152513 -250.955554 
L 347.56107 -251.868998 
L 345.969626 -246.502513 
L 344.378182 -247.358867 
L 342.786738 -244.218903 
L 341.195294 -242.791646 
L 339.60385 -238.509876 
L 338.012406 -234.228106 
L 336.420963 -230.517239 
L 334.829519 -246.787965 
L 333.238075 -242.791646 
L 331.646631 -240.508035 
L 330.055187 -229.946336 
L 328.463743 -219.670088 
L 326.872299 -228.51908 
L 325.280856 -234.513558 
L 323.689412 -227.091823 
L 322.097968 -237.225345 
L 320.506524 -235.284276 
L 318.91508 -209.964743 
L 317.323636 -195.692177 
L 315.732193 -207.310046 
L 314.140749 -180.277805 
L 312.549305 -205.968425 
L 310.957861 -187.128637 
L 309.366417 -203.285182 
L 307.774973 -186.186648 
L 306.183529 -200.54485 
L 304.592086 -179.906719 
L 303.000642 -192.837664 
L 301.409198 -213.104708 
L 299.817754 -187.984991 
L 298.22631 -200.54485 
L 296.634866 -180.848708 
L 295.043422 -177.994195 
L 293.451979 -167.147044 
L 291.860535 -164.292531 
L 290.269091 -174.568779 
L 288.677647 -170.001558 
L 287.086203 -164.292531 
L 285.494759 -182.561416 
L 283.903316 -170.001558 
L 282.311872 -147.165451 
L 280.720428 -152.018124 
L 279.128984 -148.592708 
L 277.53754 -147.450903 
L 275.946096 -132.892885 
L 274.354652 -130.038372 
L 272.763209 -139.458265 
L 271.171765 -130.038372 
L 269.580321 -130.038372 
L 267.988877 -136.746478 
L 266.397433 -135.747398 
L 264.805989 -148.592708 
L 263.214545 -132.892885 
L 261.623102 -147.450903 
L 260.031658 -132.892885 
L 258.440214 -140.314619 
L 256.84877 -135.747398 
L 255.257326 -145.738195 
L 253.665882 -138.601912 
L 252.074439 -143.939851 
L 250.482995 -135.747398 
L 248.891551 -143.939851 
L 247.300107 -127.183858 
L 245.708663 -124.329345 
L 244.117219 -122.902088 
L 242.525775 -125.185699 
L 240.934332 -142.027327 
L 239.342888 -124.043894 
L 237.751444 -116.907611 
L 236.16 -128.810931 
L 234.568556 -116.051257 
L 232.977112 -111.484035 
L 231.385668 -112.911292 
L 229.794225 -126.327504 
L 228.202781 -118.620319 
L 226.611337 -126.327504 
L 225.019893 -115.194903 
L 223.428449 -120.903929 
L 221.837005 -121.474832 
L 220.245561 -115.194903 
L 218.654118 -122.787908 
L 217.062674 -115.194903 
L 215.47123 -118.620319 
L 213.879786 -116.051257 
L 212.288342 -124.043894 
L 210.696898 -138.887363 
L 209.105455 -135.319221 
L 207.514011 -138.601912 
L 205.922567 -118.620319 
L 204.331123 -105.775009 
L 202.739679 -107.202265 
L 201.148235 -105.775009 
L 199.556791 -107.202265 
L 197.965348 -107.202265 
L 196.373904 -110.056779 
L 194.78246 -115.194903 
L 193.191016 -111.484035 
L 191.599572 -118.049416 
L 190.008128 -107.202265 
L 188.416684 -107.202265 
L 186.825241 -123.758442 
L 185.233797 -114.338549 
L 183.642353 -117.193062 
L 182.050909 -118.620319 
L 180.459465 -115.765805 
L 178.868021 -117.193062 
L 177.276578 -124.329345 
L 175.685134 -135.176496 
L 174.09369 -121.474832 
L 172.502246 -117.193062 
L 170.910802 -114.338549 
L 169.319358 -111.484035 
L 167.727914 -114.338549 
L 166.136471 -125.956418 
L 164.545027 -116.907611 
L 162.953583 -117.193062 
L 161.362139 -105.775009 
L 159.770695 -101.493239 
L 158.179251 -105.775009 
L 156.587807 -106.631363 
L 154.996364 -101.493239 
L 153.40492 -107.972984 
L 151.813476 -102.920496 
L 150.222032 -104.347752 
L 148.630588 -104.347752 
L 147.039144 -90.075186 
L 145.447701 -86.364319 
L 143.856257 -77.372602 
L 142.264813 -75.802619 
L 140.673369 -75.517168 
L 139.081925 -71.52085 
L 137.490481 -67.809982 
L 135.899037 -66.011639 
L 134.307594 -63.242761 
L 132.71615 -62.95731 
L 131.124706 -63.242761 
L 129.533262 -66.011639 
L 127.941818 -74.660814 
L 126.350374 -65.526372 
L 124.75893 -64.099115 
L 123.167487 -63.242761 
L 121.576043 -64.099115 
L 119.984599 -60.673699 
L 118.393155 -63.242761 
L 116.801711 -60.102796 
L 115.210267 -63.813664 
L 113.618824 -63.242761 
L 112.02738 -66.097274 
L 110.435936 -67.23908 
L 108.844492 -66.953628 
L 107.253048 -71.806301 
L 105.661604 -71.235398 
L 104.07016 -70.379044 
L 102.478717 -73.519009 
L 100.887273 -64.955469 
L 99.295829 -68.666336 
L 97.704385 -68.095434 
L 96.112941 -74.518088 
L 94.521497 -68.666336 
L 92.930053 -62.814584 
L 91.33861 -64.670018 
L 89.747166 -68.095434 
L 88.155722 -59.531894 
L 86.564278 -60.673699 
L 84.972834 -60.95915 
L 83.38139 -61.530053 
L 81.789947 -56.391929 
L 80.198503 -50.397451 
L 78.607059 -50.112 
L 77.015615 -50.112 
L 75.424171 -50.112 
L 73.832727 -50.112 
z
" style="stroke: #55a868; stroke-opacity: 0.2"/>
    </defs>
    <g clip-path="url(#p02d3b5d28d)">
     <use href="#m4de6ec5535" x="0" y="345.6" style="fill: #55a868; fill-opacity: 0.2; stroke: #55a868; stroke-opacity: 0.2"/>
    </g>
   </g>
   <g id="line2d_15">
    <path d="M 73.832727 295.488 
L 94.521497 295.488 
L 96.112941 294.346195 
L 99.295829 294.917097 
L 100.887273 293.204389 
L 102.478717 295.202549 
L 104.07016 295.202549 
L 105.661604 295.488 
L 107.253048 293.775292 
L 108.844492 295.202549 
L 112.02738 295.202549 
L 113.618824 293.775292 
L 115.210267 294.346195 
L 116.801711 295.202549 
L 118.393155 293.204389 
L 119.984599 294.631646 
L 121.576043 292.918938 
L 123.167487 294.346195 
L 124.75893 294.631646 
L 126.350374 293.489841 
L 127.941818 287.209912 
L 129.533262 292.918938 
L 131.124706 292.062584 
L 132.71615 292.348035 
L 134.307594 293.775292 
L 135.899037 290.692418 
L 137.490481 289.350796 
L 139.081925 289.778973 
L 140.673369 286.210832 
L 142.264813 280.815802 
L 143.856257 288.437352 
L 145.447701 288.066265 
L 147.039144 284.069947 
L 148.630588 282.157423 
L 150.222032 284.069947 
L 151.813476 286.210832 
L 154.996364 285.297388 
L 156.587807 287.552453 
L 158.179251 290.235696 
L 159.770695 284.926301 
L 161.362139 287.552453 
L 162.953583 289.778973 
L 164.545027 291.605862 
L 166.136471 285.782655 
L 167.727914 284.355398 
L 169.319358 287.552453 
L 170.910802 287.209912 
L 172.502246 288.922619 
L 174.09369 278.646372 
L 175.685134 285.297388 
L 177.276578 278.646372 
L 178.868021 279.902358 
L 180.459465 282.64269 
L 182.050909 285.782655 
L 183.642353 281.786336 
L 185.233797 278.646372 
L 186.825241 283.499044 
L 188.416684 284.355398 
L 191.599572 284.355398 
L 193.191016 280.35908 
L 194.78246 282.157423 
L 196.373904 281.215434 
L 197.965348 283.013777 
L 199.556791 288.066265 
L 201.148235 283.013777 
L 202.739679 281.786336 
L 204.331123 290.692418 
L 205.922567 284.926301 
L 207.514011 285.297388 
L 209.105455 282.64269 
L 210.696898 277.219115 
L 212.288342 283.499044 
L 213.879786 279.41709 
L 215.47123 281.215434 
L 217.062674 285.782655 
L 218.654118 280.815802 
L 220.245561 274.935504 
L 221.837005 281.786336 
L 223.428449 284.926301 
L 225.019893 279.41709 
L 228.202781 278.646372 
L 229.794225 280.815802 
L 231.385668 279.902358 
L 232.977112 276.762393 
L 234.568556 285.297388 
L 236.16 282.64269 
L 237.751444 278.646372 
L 239.342888 277.219115 
L 240.934332 283.013777 
L 242.525775 280.35908 
L 244.117219 287.209912 
L 245.708663 281.786336 
L 247.300107 279.41709 
L 248.891551 286.210832 
L 250.482995 288.437352 
L 252.074439 284.926301 
L 253.665882 277.647292 
L 255.257326 287.209912 
L 256.84877 285.297388 
L 258.440214 279.017458 
L 260.031658 290.692418 
L 261.623102 272.223717 
L 263.214545 286.210832 
L 264.805989 281.215434 
L 266.397433 283.499044 
L 267.988877 290.692418 
L 269.580321 290.692418 
L 271.171765 284.926301 
L 272.763209 290.20715 
L 274.354652 293.775292 
L 275.946096 292.062584 
L 277.53754 290.692418 
L 279.128984 293.775292 
L 280.720428 295.202549 
L 282.311872 293.775292 
L 283.903316 295.488 
L 285.494759 292.062584 
L 288.677647 295.488 
L 290.269091 293.775292 
L 291.860535 295.488 
L 293.451979 292.062584 
L 295.043422 292.062584 
L 296.634866 288.922619 
L 298.22631 295.202549 
L 299.817754 292.490761 
L 301.409198 293.489841 
L 303.000642 285.782655 
L 304.592086 290.692418 
L 306.183529 293.775292 
L 307.774973 293.775292 
L 309.366417 290.20715 
L 310.957861 293.775292 
L 312.549305 293.775292 
L 314.140749 292.062584 
L 315.732193 292.062584 
L 317.323636 295.488 
L 318.91508 291.634407 
L 320.506524 287.209912 
L 322.097968 291.634407 
L 323.689412 295.488 
L 325.280856 287.552453 
L 326.872299 293.775292 
L 330.055187 293.775292 
L 331.646631 290.692418 
L 333.238075 288.722804 
L 334.829519 288.437352 
L 336.420963 293.775292 
L 338.012406 285.582839 
L 339.60385 285.582839 
L 341.195294 288.437352 
L 342.786738 292.062584 
L 344.378182 288.922619 
L 345.969626 290.20715 
L 347.56107 293.775292 
L 349.152513 293.775292 
L 350.743957 292.062584 
L 352.335401 285.297388 
L 353.926845 293.775292 
L 355.518289 293.775292 
L 357.109733 291.777133 
L 358.701176 291.777133 
L 360.29262 295.488 
L 361.884064 295.488 
L 363.475508 293.775292 
L 365.066952 291.777133 
L 366.658396 291.777133 
L 368.24984 293.489841 
L 369.841283 293.489841 
L 371.432727 295.488 
L 373.024171 293.775292 
L 377.798503 293.775292 
L 379.389947 290.349876 
L 380.98139 293.775292 
L 384.164278 293.775292 
L 385.755722 295.488 
L 387.347166 292.062584 
L 388.93861 292.062584 
L 392.121497 295.488 
L 393.712941 293.775292 
L 395.304385 293.775292 
L 396.895829 290.349876 
L 398.487273 292.062584 
L 398.487273 292.062584 
" clip-path="url(#p02d3b5d28d)" style="fill: none; stroke: #4c72b0; stroke-width: 1.5; stroke-linecap: round"/>
   </g>
   <g id="line2d_16">
    <path d="M 73.832727 295.488 
L 78.607059 295.488 
L 80.198503 294.917097 
L 81.789947 289.778973 
L 83.38139 258.379327 
L 84.972834 252.670301 
L 86.564278 229.548743 
L 88.155722 258.379327 
L 91.33861 251.528496 
L 92.930053 239.53954 
L 94.521497 245.248566 
L 96.112941 237.541381 
L 97.704385 240.395894 
L 99.295829 247.532177 
L 100.887273 242.108602 
L 102.478717 255.239363 
L 104.07016 239.824991 
L 105.661604 240.681345 
L 107.253048 244.963115 
L 108.844492 245.819469 
L 110.435936 251.528496 
L 112.02738 245.819469 
L 115.210267 250.243965 
L 116.801711 251.243044 
L 118.393155 243.535858 
L 119.984599 255.524814 
L 121.576043 250.101239 
L 123.167487 245.248566 
L 124.75893 251.243044 
L 126.350374 256.666619 
L 127.941818 248.388531 
L 129.533262 259.806584 
L 131.124706 254.097558 
L 132.71615 249.244885 
L 134.307594 256.095717 
L 137.490481 234.401416 
L 139.081925 239.53954 
L 142.264813 252.099398 
L 143.856257 257.808425 
L 145.447701 239.824991 
L 147.039144 243.82131 
L 150.222032 220.12885 
L 151.813476 237.541381 
L 153.40492 239.824991 
L 154.996364 242.964956 
L 156.587807 239.824991 
L 158.179251 243.82131 
L 159.770695 246.675823 
L 161.362139 247.532177 
L 162.953583 236.25685 
L 166.136471 227.265133 
L 167.727914 230.405097 
L 169.319358 234.115965 
L 170.910802 223.696991 
L 172.502246 221.841558 
L 174.09369 228.977841 
L 175.685134 223.696991 
L 177.276578 220.557027 
L 178.868021 216.503618 
L 180.459465 221.099384 
L 182.050909 223.268814 
L 183.642353 219.643582 
L 185.233797 221.099384 
L 186.825241 216.789069 
L 188.416684 218.701593 
L 190.008128 212.136212 
L 191.599572 204.828658 
L 193.191016 217.845239 
L 194.78246 206.141735 
L 196.373904 215.561628 
L 197.965348 209.852602 
L 199.556791 206.998088 
L 201.148235 203.858124 
L 202.739679 207.968623 
L 204.331123 209.281699 
L 205.922567 204.429027 
L 207.514011 202.259596 
L 209.105455 185.132517 
L 210.696898 197.464014 
L 212.288342 189.671193 
L 213.879786 189.385742 
L 215.47123 197.778011 
L 217.062674 195.665671 
L 218.654118 193.010973 
L 220.245561 202.573593 
L 221.837005 186.160142 
L 223.428449 190.584637 
L 225.019893 184.161982 
L 226.611337 172.886655 
L 228.202781 168.462159 
L 229.794225 187.87285 
L 231.385668 175.598442 
L 232.977112 177.396786 
L 234.568556 182.249458 
L 236.16 159.042265 
L 237.751444 168.861791 
L 239.342888 165.693281 
L 240.934332 169.318513 
L 242.525775 156.758655 
L 244.117219 152.191434 
L 245.708663 154.018322 
L 247.300107 158.471363 
L 250.482995 136.919788 
L 252.074439 149.051469 
L 253.665882 136.919788 
L 255.257326 136.919788 
L 256.84877 150.878358 
L 258.440214 134.208 
L 260.031658 132.495292 
L 261.623102 123.931752 
L 263.214545 144.569883 
L 264.805989 140.487929 
L 266.397433 126.500814 
L 267.988877 146.767858 
L 269.580321 138.289954 
L 271.171765 127.499894 
L 272.763209 115.368212 
L 274.354652 111.371894 
L 275.946096 132.894924 
L 277.53754 120.220885 
L 279.128984 132.894924 
L 280.720428 112.228248 
L 282.311872 111.371894 
L 283.903316 119.935434 
L 285.494759 118.051455 
L 287.086203 88.821239 
L 288.677647 94.244814 
L 290.269091 93.38846 
L 291.860535 103.093805 
L 293.451979 101.381097 
L 295.043422 89.677593 
L 296.634866 103.664708 
L 298.22631 115.796389 
L 299.817754 77.974088 
L 301.409198 90.248496 
L 303.000642 105.948319 
L 304.592086 105.463051 
L 306.183529 94.244814 
L 307.774973 103.093805 
L 309.366417 89.249416 
L 310.957861 92.33229 
L 312.549305 91.504481 
L 314.140749 95.55789 
L 315.732193 98.812035 
L 317.323636 97.384779 
L 318.91508 86.109451 
L 320.506524 108.231929 
L 322.097968 91.504481 
L 323.689412 100.039476 
L 325.280856 81.171143 
L 326.872299 98.241133 
L 328.463743 99.097487 
L 330.055187 97.784411 
L 331.646631 83.397664 
L 333.238075 95.101168 
L 334.829519 90.134315 
L 336.420963 86.109451 
L 338.012406 91.961204 
L 339.60385 78.459356 
L 341.195294 90.134315 
L 342.786738 83.397664 
L 344.378182 84.82492 
L 345.969626 86.99435 
L 347.56107 78.916078 
L 349.152513 84.254018 
L 350.743957 80.257699 
L 352.335401 90.134315 
L 355.518289 79.800977 
L 357.109733 83.854386 
L 358.701176 80.742966 
L 360.29262 77.974088 
L 361.884064 85.681274 
L 363.475508 89.677593 
L 365.066952 69.981451 
L 366.658396 78.459356 
L 368.24984 77.117735 
L 369.841283 77.117735 
L 371.432727 76.261381 
L 373.024171 81.54223 
L 376.207059 72.550513 
L 377.798503 77.545912 
L 379.389947 74.348857 
L 380.98139 77.974088 
L 382.572834 74.834124 
L 384.164278 83.397664 
L 385.755722 75.690478 
L 387.347166 70.75217 
L 388.93861 60.932644 
L 390.530053 74.834124 
L 392.121497 72.265062 
L 393.712941 79.401345 
L 395.304385 74.834124 
L 396.895829 76.661012 
L 398.487273 69.010917 
L 398.487273 69.010917 
" clip-path="url(#p02d3b5d28d)" style="fill: none; stroke: #dd8452; stroke-width: 1.5; stroke-linecap: round"/>
   </g>
   <g id="line2d_17">
    <path d="M 73.832727 295.488 
L 78.607059 295.488 
L 80.198503 295.202549 
L 81.789947 292.633487 
L 83.38139 287.495363 
L 84.972834 288.066265 
L 86.564278 288.351717 
L 88.155722 289.493522 
L 89.747166 280.929982 
L 91.33861 284.355398 
L 92.930053 286.210832 
L 96.112941 274.507327 
L 97.704385 280.929982 
L 99.295829 280.35908 
L 100.887273 284.069947 
L 102.478717 275.506407 
L 104.07016 278.646372 
L 105.661604 277.790018 
L 107.253048 277.219115 
L 108.844492 282.071788 
L 110.435936 281.786336 
L 112.02738 282.928142 
L 113.618824 285.782655 
L 115.210267 285.211752 
L 116.801711 288.922619 
L 118.393155 285.782655 
L 119.984599 288.351717 
L 121.576043 284.926301 
L 123.167487 285.782655 
L 124.75893 284.926301 
L 126.350374 283.499044 
L 127.941818 279.502726 
L 129.533262 283.013777 
L 131.124706 285.782655 
L 132.71615 286.068106 
L 134.307594 285.782655 
L 135.899037 283.013777 
L 139.081925 279.41709 
L 140.673369 276.362761 
L 142.264813 276.762393 
L 143.856257 275.506407 
L 145.447701 267.799221 
L 147.039144 266.942867 
L 148.630588 256.523894 
L 150.222032 258.778959 
L 151.813476 256.381168 
L 153.40492 249.815788 
L 154.996364 259.235681 
L 156.587807 254.211738 
L 158.179251 255.638995 
L 159.770695 258.778959 
L 161.362139 253.812106 
L 162.953583 249.815788 
L 164.545027 251.528496 
L 166.136471 246.961274 
L 167.727914 248.388531 
L 169.319358 248.388531 
L 170.910802 252.955752 
L 172.502246 253.812106 
L 174.09369 256.523894 
L 175.685134 248.959434 
L 177.276578 249.815788 
L 178.868021 258.778959 
L 180.459465 254.66846 
L 182.050909 252.38485 
L 183.642353 255.638995 
L 185.233797 259.235681 
L 186.825241 246.675823 
L 188.416684 260.092035 
L 190.008128 256.381168 
L 193.191016 248.388531 
L 194.78246 253.383929 
L 196.373904 255.638995 
L 197.965348 254.66846 
L 199.556791 255.239363 
L 201.148235 254.66846 
L 202.739679 255.524814 
L 204.331123 250.243965 
L 205.922567 253.383929 
L 207.514011 242.679504 
L 209.105455 241.680425 
L 210.696898 239.824991 
L 212.288342 251.243044 
L 213.879786 249.815788 
L 215.47123 242.964956 
L 217.062674 251.528496 
L 218.654118 247.988899 
L 220.245561 249.33052 
L 221.837005 236.742117 
L 223.428449 247.532177 
L 225.019893 247.988899 
L 226.611337 244.848935 
L 228.202781 256.523894 
L 229.794225 234.115965 
L 231.385668 251.243044 
L 232.977112 244.848935 
L 234.568556 246.675823 
L 236.16 234.487051 
L 237.751444 248.959434 
L 239.342888 235.828673 
L 240.934332 224.125168 
L 242.525775 228.692389 
L 244.117219 226.979681 
L 245.708663 227.836035 
L 247.300107 227.836035 
L 248.891551 213.363653 
L 250.482995 216.503618 
L 252.074439 210.223688 
L 253.665882 212.022032 
L 255.257326 208.425345 
L 256.84877 217.417062 
L 258.440214 208.853522 
L 260.031658 222.697912 
L 261.623102 210.708956 
L 263.214545 222.127009 
L 264.805989 201.289062 
L 266.397433 218.758683 
L 267.988877 216.132531 
L 269.580321 224.410619 
L 271.171765 225.552425 
L 272.763209 212.906931 
L 274.354652 222.983363 
L 275.946096 225.552425 
L 277.53754 212.022032 
L 279.128984 219.643582 
L 280.720428 218.758683 
L 282.311872 221.841558 
L 283.903316 195.380219 
L 285.494759 188.729204 
L 287.086203 204.828658 
L 288.677647 199.433628 
L 290.269091 203.00177 
L 291.860535 200.232892 
L 293.451979 209.852602 
L 295.043422 185.87469 
L 296.634866 189.442832 
L 298.22631 183.676715 
L 299.817754 184.161982 
L 301.409198 171.316673 
L 303.000642 187.301947 
L 304.592086 189.10029 
L 306.183529 169.318513 
L 307.774973 192.240255 
L 309.366417 169.74669 
L 310.957861 190.870088 
L 312.549305 160.298251 
L 314.140749 187.730124 
L 315.732193 172.886655 
L 317.323636 175.02754 
L 318.91508 165.693281 
L 320.506524 149.051469 
L 322.097968 146.282591 
L 323.689412 148.594747 
L 325.280856 153.047788 
L 326.872299 153.475965 
L 328.463743 158.471363 
L 330.055187 155.902301 
L 331.646631 145.05515 
L 333.238075 140.973196 
L 334.829519 141.344283 
L 336.420963 153.475965 
L 338.012406 151.33508 
L 339.60385 156.273388 
L 341.195294 147.709848 
L 342.786738 147.709848 
L 344.378182 151.33508 
L 345.969626 146.282591 
L 347.56107 146.282591 
L 349.152513 152.191434 
L 350.743957 160.298251 
L 352.335401 134.664722 
L 353.926845 154.189593 
L 355.518289 149.622372 
L 357.109733 148.594747 
L 358.701176 160.041345 
L 360.29262 136.006343 
L 361.884064 155.331398 
L 363.475508 145.911504 
L 365.066952 132.495292 
L 366.658396 136.006343 
L 368.24984 123.36085 
L 369.841283 117.480552 
L 371.432727 140.059752 
L 373.024171 126.500814 
L 374.615615 144.569883 
L 376.207059 133.751278 
L 377.798503 137.804687 
L 379.389947 144.198796 
L 380.98139 138.775221 
L 382.572834 136.006343 
L 384.164278 140.973196 
L 385.755722 144.569883 
L 387.347166 138.775221 
L 388.93861 134.664722 
L 390.530053 131.068035 
L 392.121497 142.77154 
L 393.712941 128.299158 
L 395.304385 138.289954 
L 396.895829 135.549621 
L 398.487273 135.549621 
L 398.487273 135.549621 
" clip-path="url(#p02d3b5d28d)" style="fill: none; stroke: #55a868; stroke-width: 1.5; stroke-linecap: round"/>
   </g>
   <g id="patch_3">
    <path d="M 57.9600 307.584 L 57.9600 41.472" style="fill: none; stroke: #ffffff; stroke-width: 1.25; stroke-linejoin: miter; stroke-linecap: square"/>
   </g>
   <g id="patch_4">
    <path d="M 415.0800 307.584 L 415.0800 41.472" style="fill: none; stroke: #ffffff; stroke-width: 1.25; stroke-linejoin: miter; stroke-linecap: square"/>
   </g>
   <g id="patch_5">
    <path d="M 57.6 307.8000 L 414.72 307.8000" style="fill: none; stroke: #ffffff; stroke-width: 1.25; stroke-linejoin: miter; stroke-linecap: square"/>
   </g>
   <g id="patch_6">
    <path d="M 57.6 42.1200 L 414.72 42.1200" style="fill: none; stroke: #ffffff; stroke-width: 1.25; stroke-linejoin: miter; stroke-linecap: square"/>
   </g>
   <g id="text_17">
    <text style="font-size: 12px; font-family: 'DejaVu Sans', 'Liberation Sans', sans-serif; text-anchor: middle; fill: #262626" x="236.16" y="35.472" transform="rotate(-0 236.16 35.472)">QTRAN</text>
   </g>
   <g id="legend_1">
    <g id="patch_7">
     <path d="M 65.920 115.128 L 148.640 115.128 Q 150.840 115.128 150.840 112.928 L 150.840 49.216 Q 150.840 47.016 148.640 47.016 L 65.920 47.016 Q 63.720 47.016 63.720 49.216 L 63.720 112.928 Q 63.720 115.128 65.920 115.128 z" style="fill: #eaeaf2; opacity: 0.8; stroke: #cccccc; stroke-linejoin: miter"/>
    </g>
    <g id="text_18" transform="translate(0.360 -0.720)">
     <text style="font-size: 12px; font-family: 'DejaVu Sans', 'Liberation Sans', sans-serif; text-anchor: start; fill: #262626" x="73.637656" y="60.490125" transform="rotate(-0 73.637656 60.490125)">Personality</text>
    </g>
    <g id="line2d_18" transform="translate(0.000 -0.360)">
     <path d="M 67.5 72.994031 
L 78.5 72.994031 
L 89.5 72.994031 
" style="fill: none; stroke: #4c72b0; stroke-width: 1.5; stroke-linecap: round"/>
    </g>
    <g id="text_19" transform="translate(0.360 -0.720)">
     <text style="font-size: 11px; font-family: 'DejaVu Sans', 'Liberation Sans', sans-serif; text-anchor: start; fill: #262626" x="98.3" y="76.844031" transform="rotate(-0 98.3 76.844031)">Coward</text>
    </g>
    <g id="line2d_19" transform="translate(0.000 -0.360)">
     <path d="M 67.5 89.139969 
L 78.5 89.139969 
L 89.5 89.139969 
" style="fill: none; stroke: #dd8452; stroke-width: 1.5; stroke-linecap: round"/>
    </g>
    <g id="text_20" transform="translate(0.360 -0.720)">
     <text style="font-size: 11px; font-family: 'DejaVu Sans', 'Liberation Sans', sans-serif; text-anchor: start; fill: #262626" x="98.3" y="92.989969" transform="rotate(-0 98.3 92.989969)">Neutral</text>
    </g>
    <g id="line2d_20" transform="translate(0.000 -0.360)">
     <path d="M 67.5 105.285906 
L 78.5 105.285906 
L 89.5 105.285906 
" style="fill: none; stroke: #55a868; stroke-width: 1.5; stroke-linecap: round"/>
    </g>
    <g id="text_21" transform="translate(0.360 -0.720)">
     <text style="font-size: 11px; font-family: 'DejaVu Sans', 'Liberation Sans', sans-serif; text-anchor: start; fill: #262626" x="98.3" y="109.135906" transform="rotate(-0 98.3 109.135906)">Reckless</text>
    </g>
   </g>
  </g>
 </g>
 <defs>
  <clipPath id="p02d3b5d28d">
   <rect x="57.6" y="41.472" width="357.12" height="266.112"/>
  </clipPath>
 </defs>
</svg>

</body></html>
